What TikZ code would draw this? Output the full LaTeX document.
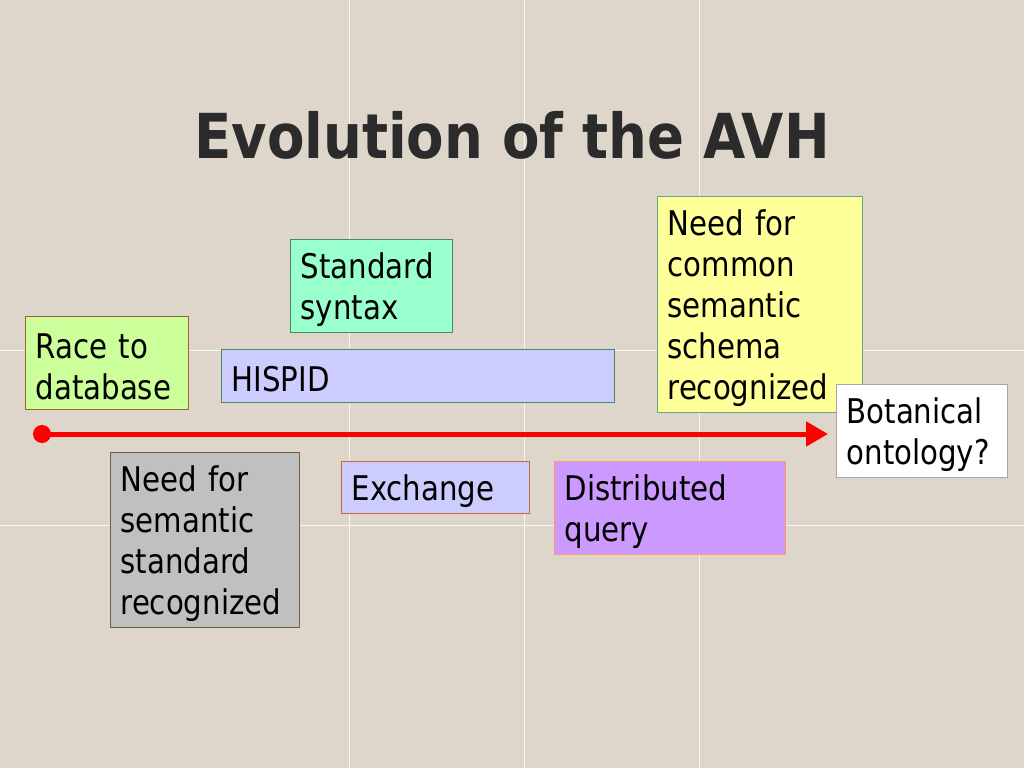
\documentclass[tikz,border=0pt]{standalone}
\usepackage{fontspec}
\setmainfont{DejaVu Sans}[FakeStretch=0.86]
\newfontfamily\titlefont{DejaVu Sans}[FakeStretch=0.88]
\usetikzlibrary{arrows.meta}

\definecolor{paper}{HTML}{DED6CA}
\definecolor{titlegray}{HTML}{2B2B2B}
\definecolor{lightgreen}{HTML}{CCFF99}
\definecolor{mintgreen}{HTML}{99FFCC}
\definecolor{lavender}{HTML}{CCCCFF}
\definecolor{paleyellow}{HTML}{FFFF99}
\definecolor{lilac}{HTML}{CC99FF}
\definecolor{midgray}{HTML}{C0C0C0}
\definecolor{brownline}{HTML}{996633}
\definecolor{greenline}{HTML}{4D8A5A}
\definecolor{tealline}{HTML}{66AA88}
\definecolor{rustline}{HTML}{CC6633}
\definecolor{salmonline}{HTML}{FF9966}
\definecolor{oliveline}{HTML}{666633}

\begin{document}
\begin{tikzpicture}[x=1pt,y=-1pt,
    box/.style={draw, line width=1.2pt, anchor=north west, inner xsep=10pt,
        inner ysep=0pt, align=left, font=\fontsize{34}{41}\selectfont,
        execute at begin node={\rule{0pt}{32pt}}}]

\useasboundingbox[fill=paper] (0,0) rectangle (1024,768);

% faint seams of the background
\foreach \xpos in {349,524,699}
{
    \draw[white, line width=1pt, opacity=0.8] (\xpos,0) -- (\xpos,768);
}
\foreach \ypos in {350,525}
{
    \draw[white, line width=1pt, opacity=0.8] (0,\ypos) -- (1024,\ypos);
}

%%%%%%%%%%%%%%%%%%%% Title %%%%%%%%%%%%%%%%%%%%%%%%%%

\node[anchor=base, text=titlegray, font=\titlefont\bfseries\fontsize{62}{70}\selectfont] (title) at (512,158) {Evolution of the AVH};

%%%%%%%%%%%%%%%%%%%% Above the line %%%%%%%%%%%%%%%%%%%%%%%%%%

\node[box, fill=lightgreen, draw=brownline, text width=143pt, minimum height=93pt] (race) at (25,316) {Race to\\database};

\node[box, fill=mintgreen, draw=greenline, text width=142pt, minimum height=93pt] (syntax) at (290,239) {Standard\\syntax};

\node[box, fill=lavender, draw=greenline, text width=373pt, minimum height=53pt] (hispid) at (221,349) {HISPID};

\node[box, fill=paleyellow, draw=tealline, text width=185pt, minimum height=216pt] (schema) at (657,196) {Need for\\common\\semantic\\schema\\recognized};

\node[box, fill=white, draw=black!35, text width=151pt, minimum height=93pt] (ontology) at (836,384) {Botanical\\ontology?};

%%%%%%%%%%%%%%%%%%%% Time line %%%%%%%%%%%%%%%%%%%%%%%%%%

\node[circle, fill=red, inner sep=0pt, minimum size=18pt] (start) at (42,434) {};
\coordinate (tip) at (828,434);
\draw[red, line width=5pt, -{Triangle[length=22pt,width=24pt]}] (start.center) -- (tip);

%%%%%%%%%%%%%%%%%%%% Below the line %%%%%%%%%%%%%%%%%%%%%%%%%%

\node[box, fill=midgray, draw=oliveline, text width=169pt, minimum height=175pt] (standard) at (110,452) {Need for\\semantic\\standard\\recognized};

\node[box, fill=lavender, draw=rustline, text width=168pt, minimum height=52pt] (exchange) at (341,461) {Exchange};

\node[box, fill=lilac, draw=salmonline, text width=211pt, minimum height=93pt] (query) at (554,461) {Distributed\\query};

\end{tikzpicture}
\end{document}
